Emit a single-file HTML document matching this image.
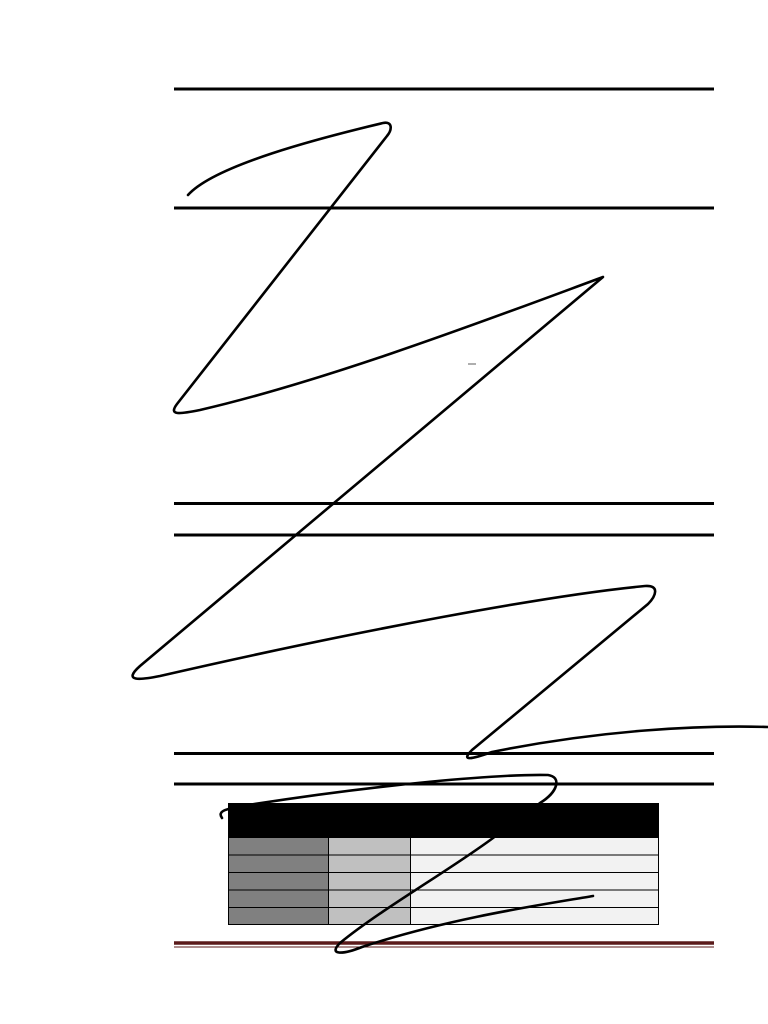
<!DOCTYPE html>
<html><head><meta charset="utf-8"><style>
html,body{margin:0;padding:0;background:#fff;width:768px;height:1024px;overflow:hidden}
</style></head><body>
<svg width="768" height="1024" viewBox="0 0 768 1024" xmlns="http://www.w3.org/2000/svg">
<g stroke="#000" stroke-width="3">
<line x1="174" y1="89" x2="714" y2="89"/>
<line x1="174" y1="208" x2="714" y2="208"/>
<line x1="174" y1="503.5" x2="714" y2="503.5"/>
<line x1="174" y1="535" x2="714" y2="535"/>
<line x1="174" y1="753.5" x2="714" y2="753.5"/>
<line x1="174" y1="784" x2="714" y2="784"/>
</g>
<line x1="174" y1="943" x2="714" y2="943" stroke="#5a1a1a" stroke-width="3.5"/>
<line x1="174" y1="947" x2="714" y2="947" stroke="#5a1a1a" stroke-width="1"/>
<!-- table -->
<rect x="228" y="803" width="431" height="35" fill="#000"/>
<g stroke="#000" stroke-width="1">
<rect x="228.5" y="837.5" width="100" height="87" fill="#808080"/>
<rect x="328.5" y="837.5" width="82" height="87" fill="#c0c0c0"/>
<rect x="410.5" y="837.5" width="248" height="87" fill="#f2f2f2"/>
<line x1="228" y1="855" x2="659" y2="855"/>
<line x1="228" y1="872.5" x2="659" y2="872.5"/>
<line x1="228" y1="890" x2="659" y2="890"/>
<line x1="228" y1="907.5" x2="659" y2="907.5"/>
</g>
<line x1="468" y1="364" x2="476" y2="364" stroke="#777" stroke-width="1.2"/>
<g fill="none" stroke="#000" stroke-width="2.6" stroke-linecap="round" stroke-linejoin="round">
<path d="M188,195 C215,165 320,138 383,123 C393,121 392,130 387,136 L177,404 C168,416 180,414 200,410 C330,380 500,315 603,277 L140,666 C122,682 140,680 160,676 C360,630 550,595 645,586 C660,585 656,596 648,604 L472,750 C460,762 472,759 492,752 C600,730 700,725 768,727"/>
<path d="M222,818 C217,811 226,809 242,806 C380,784 500,774 548,775 C562,777 558,792 540,803 L493,838 C450,870 380,910 340,943 C328,955 342,955 362,947 C450,918 540,905 593,896"/>
</g>
</svg>
</body></html>
